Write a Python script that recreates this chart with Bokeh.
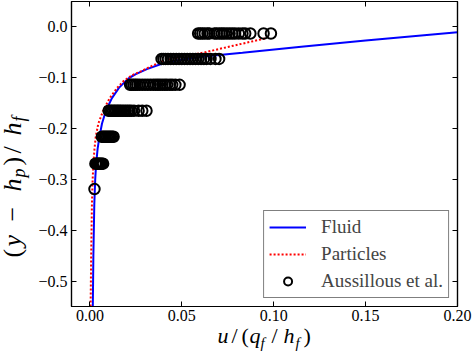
import math
from bokeh.plotting import figure
from bokeh.layouts import row, column
from bokeh.models import Range1d, LinearAxis, FixedTicker, Legend, LegendItem
from bokeh.core.properties import value
from bokeh.embed import file_html
from bokeh.resources import INLINE

# ---- data ----
fluid_u = [0.0016, 0.0019, 0.0024, 0.0029, 0.0034, 0.0042, 0.0052, 0.0066, 0.0087,
           0.0120, 0.0158, 0.0185, 0.0215, 0.0250, 0.0310, 0.0380, 0.0470, 0.0620,
           0.0830, 0.1150, 0.1500, 0.2000]
fluid_y = [-0.55, -0.45, -0.35, -0.30, -0.27, -0.24, -0.216, -0.19, -0.165,
           -0.14, -0.12, -0.11, -0.10, -0.093, -0.083, -0.074, -0.066, -0.058,
           -0.051, -0.039, -0.0267, -0.0104]

part_u = [0.0004, 0.0007, 0.0011, 0.0015, 0.0019, 0.0025, 0.0032, 0.0046, 0.0072,
          0.0108, 0.0148, 0.0185, 0.0230, 0.0280, 0.0330, 0.0398, 0.0490, 0.0613,
          0.0780, 0.0954]
part_y = [-0.55, -0.45, -0.35, -0.30, -0.27, -0.24, -0.216, -0.19, -0.165,
          -0.14, -0.12, -0.106, -0.095, -0.087, -0.078, -0.0667, -0.059, -0.051,
          -0.037, -0.0227]

aus_row_y = [-0.013, -0.063, -0.114, -0.165, -0.216, -0.269, -0.319]
aus_row_u = [
    [0.0589, 0.0600, 0.0612, 0.0625, 0.0640, 0.0650, 0.0678, 0.0690, 0.0705, 0.0718,
     0.0730, 0.0745, 0.0760, 0.0775, 0.0790, 0.0810, 0.0830, 0.0845, 0.0873, 0.0945,
     0.0985],
    [0.0390, 0.0400, 0.0412, 0.0425, 0.0440, 0.0455, 0.0470, 0.0485, 0.0500, 0.0515,
     0.0530, 0.0545, 0.0560, 0.0575, 0.0590, 0.0605, 0.0620, 0.0635, 0.0656, 0.0683,
     0.0703],
    [0.0219, 0.0228, 0.0238, 0.0248, 0.0258, 0.0270, 0.0285, 0.0300, 0.0315, 0.0330,
     0.0345, 0.0358, 0.0370, 0.0382, 0.0395, 0.0408, 0.0420, 0.0435, 0.0448, 0.0465,
     0.0488],
    [0.0102, 0.0110, 0.0118, 0.0126, 0.0134, 0.0142, 0.0150, 0.0158, 0.0166, 0.0175,
     0.0185, 0.0195, 0.0205, 0.0215, 0.0225, 0.0240, 0.0265, 0.0285, 0.0308],
    [0.0065, 0.0072, 0.0079, 0.0086, 0.0093, 0.0100, 0.0107, 0.0114, 0.0121, 0.0129],
    [0.0030, 0.0035, 0.0040, 0.0045, 0.0050, 0.0055, 0.0060, 0.0066, 0.0072],
    [0.0025],
]

x_ticks = [0.0, 0.05, 0.10, 0.15, 0.20]
x_tick_labels = ["0.00", "0.05", "0.10", "0.15", "0.20"]
y_ticks = [-0.5, -0.4, -0.3, -0.2, -0.1, 0.0]
y_tick_labels = ["\u22120.5", "\u22120.4", "\u22120.3", "\u22120.2", "\u22120.1", "0.0"]

legend_labels = ["Fluid", "Particles", "Aussillous et al."]

# axis-label pieces: (text, font style, size px, is_subscript, offset px along the label)
x_label_parts = [("u", "italic", 22, False, 0), ("/", "normal", 22, False, 14),
                 ("(", "normal", 22, False, 24), ("q", "italic", 22, False, 32),
                 ("f", "italic", 15, True, 43), ("/", "normal", 22, False, 54),
                 ("h", "italic", 22, False, 66), ("f", "italic", 15, True, 78),
                 (")", "normal", 22, False, 86)]
y_label_parts = [("(", "normal", 26, False, 0), ("y", "italic", 26, False, 11),
                 ("\u2212", "normal", 26, False, 36), ("h", "italic", 26, False, 66),
                 ("p", "italic", 18, True, 80), (")", "normal", 26, False, 92),
                 ("/", "normal", 26, False, 104), ("h", "italic", 26, False, 122),
                 ("f", "italic", 18, True, 136)]

aus_u = [u for r in aus_row_u for u in r]
aus_y = [y for y, r in zip(aus_row_y, aus_row_u) for _ in r]

FONT = "Liberation Serif"

# ---------------- main plot ----------------
p = figure(width=439, height=328, output_backend="svg", toolbar_location=None,
           x_range=Range1d(-0.01, 0.2), y_range=Range1d(-0.55, 0.05),
           min_border_left=33, min_border_right=17, min_border_top=1, min_border_bottom=22,
           background_fill_color="white", border_fill_color="white")
p.grid.visible = False
p.outline_line_color = "black"
p.outline_line_width = 1.2

def style_axis(ax, ticks, labels, show):
    ax.ticker = FixedTicker(ticks=ticks)
    ax.major_tick_in = 5
    ax.major_tick_out = 0
    ax.minor_tick_line_color = None
    ax.major_tick_line_color = "black"
    ax.axis_line_color = "black"
    ax.axis_line_width = 1.2
    if show:
        ax.major_label_overrides = {t: l for t, l in zip(ticks, labels)}
        ax.major_label_text_font = FONT
        ax.major_label_text_font_size = "16px"
        ax.major_label_text_color = "black"
    else:
        ax.major_label_overrides = {t: "" for t in ticks}
        ax.major_label_text_font_size = "1px"
        ax.major_label_standoff = 0

style_axis(p.xaxis[0], x_ticks, x_tick_labels, True)
p.xaxis[0].major_label_standoff = 3
style_axis(p.yaxis[0], y_ticks, y_tick_labels, True)
p.yaxis[0].major_label_standoff = 4

top = LinearAxis()
style_axis(top, x_ticks, x_tick_labels, False)
p.add_layout(top, "above")
right = LinearAxis()
style_axis(right, y_ticks, y_tick_labels, False)
p.add_layout(right, "right")

r_fluid = p.line(fluid_u, fluid_y, line_color="#0000ff", line_width=2)
r_part = p.line(part_u, part_y, line_color="#ff0000", line_width=2, line_dash="2 2")
r_aus = p.scatter(aus_u, aus_y, marker="circle", size=10.5, fill_color=None,
                  line_color="black", line_width=2)

legend = Legend(items=[LegendItem(label=legend_labels[0], renderers=[r_fluid]),
                       LegendItem(label=legend_labels[1], renderers=[r_part]),
                       LegendItem(label=legend_labels[2], renderers=[r_aus])],
                location="bottom_right")
legend.margin = 8
legend.padding = 5
legend.spacing = 5
legend.glyph_width = 37
legend.glyph_height = 20
legend.label_height = 20
legend.label_standoff = 15
legend.label_text_font = FONT
legend.label_text_font_size = "19px"
legend.border_line_color = "black"
legend.border_line_width = 1.2
legend.background_fill_color = "white"
legend.background_fill_alpha = 1.0
p.add_layout(legend, "center")

# ---------------- axis-label strips ----------------
def text_strip(w, h):
    f = figure(width=w, height=h, frame_width=w, frame_height=h,
               x_range=Range1d(0, w), y_range=Range1d(0, h),
               output_backend="svg", toolbar_location=None, title_location=None,
               min_border=0, x_axis_type=None, y_axis_type=None,
               outline_line_color=None,
               background_fill_color="white", border_fill_color="white")
    f.grid.visible = False
    return f

BASE_SHIFT = 0.46  # rendered baseline sits this many em below the anchor

# x label strip (below the plot): 474 x 27, canvas rows 328..355
# wanted baselines: canvas row 345 (main glyphs), 349 (subscripts)
xstrip = text_strip(474, 27)
xstrip.text(x=[217 + part[4] for part in x_label_parts],
            y=[(355 - (349 if part[3] else 345)) + BASE_SHIFT * part[2]
               for part in x_label_parts],
            text=[part[0] for part in x_label_parts],
            text_font=value(FONT),
            text_font_style=[part[1] for part in x_label_parts],
            text_font_size=[f"{part[2]}px" for part in x_label_parts],
            text_color="black", text_baseline="alphabetic", text_align="left")

# y label strip (left of the plot): 35 x 328, label runs upward from canvas row 256
# wanted baselines: canvas column 24 (main glyphs), 27 (subscripts)
ystrip = text_strip(35, 328)
ystrip.text(x=[(27 if part[3] else 24) - BASE_SHIFT * part[2] for part in y_label_parts],
            y=[(328 - 256) + part[4] for part in y_label_parts],
            text=[part[0] for part in y_label_parts],
            text_font=value(FONT),
            text_font_style=[part[1] for part in y_label_parts],
            text_font_size=[f"{part[2]}px" for part in y_label_parts],
            text_color="black", angle=math.pi / 2,
            text_baseline="alphabetic", text_align="left")

layout = column(row(ystrip, p), xstrip)
open("out.html", "w").write(file_html(layout, INLINE))
